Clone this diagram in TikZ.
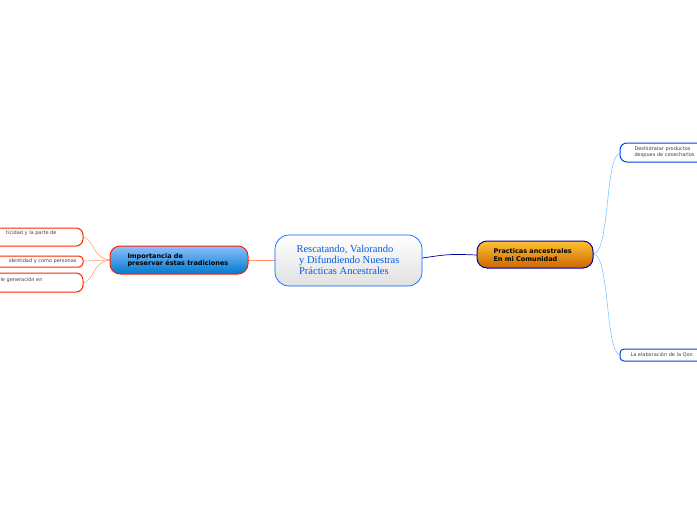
\documentclass[tikz,border=0pt]{standalone}
\usepackage{fontspec}
\setmainfont{Liberation Serif}
\newfontfamily\sansf{DejaVu Sans}
\begin{document}
\begin{tikzpicture}[x=1pt,y=-1pt,
  ltext/.style={font=\sansf\fontsize{5}{6}\selectfont,text=black!75,anchor=west,align=left},
  redline/.style={draw=orange!60!red!60,line width=0.5pt},
  blueline/.style={draw=blue!40!cyan!60,line width=0.5pt},
  redbox/.style={draw=red!70!orange,line width=1pt,fill=white,rounded corners=7pt},
  bluebox/.style={draw=blue!70!cyan!90!black,line width=1pt,fill=white,rounded corners=7pt}]
\useasboundingbox (0,0) rectangle (697,520);
\clip (0,0) rectangle (697,520);
% connectors
\draw[redline] (248,260) -- (275,260);
\draw[draw=blue!60!black,line width=0.7pt] (422,258) .. controls (450,254) .. (477,255);
\draw[redline] (83,237) .. controls (95,240) and (92,258) .. (110,260);
\draw[redline] (83,261) -- (110,260);
\draw[redline] (83,283) .. controls (95,280) and (92,262) .. (110,260);
\draw[blueline] (593,254) .. controls (610,254) and (605,155) .. (620,153);
\draw[blueline] (593,254) .. controls (610,254) and (605,352) .. (620,355);
% central
\shade[top color=white,bottom color=black!12,draw=blue!60!cyan,line width=0.7pt,rounded corners=14pt] (275,235) rectangle (422,286);
\node[font=\fontsize{10.5}{11}\selectfont,text=blue!60!cyan!90!black,align=left] (c) at (348,260) {Rescatando, Valorando\\ \ y Difundiendo Nuestras\\ \ Prácticas Ancestrales};
% left main
\shade[top color=cyan!45!blue!45,bottom color=cyan!60!blue!80!black,draw=red!75!orange,line width=1pt,rounded corners=10pt] (110,246) rectangle (248,274);
\node[font=\sansf\bfseries\fontsize{6.5}{7.5}\selectfont,anchor=west,align=left] (l) at (124,260) {Importancia de\\preservar éstas tradiciones};
% right main
\shade[top color=orange!60!yellow!80,bottom color=orange!80!black,draw=blue!70!black,line width=1pt,rounded corners=10pt] (477,241) rectangle (593,268);
\node[font=\sansf\bfseries\fontsize{6.5}{7.5}\selectfont,anchor=west,align=left] (r) at (490,255) {Practicas ancestrales\\En mi Comunidad};
% left leaves
\draw[redbox] (-20,228) rectangle (83,246);
\node[ltext,anchor=east] (a1) at (60,233) {ticidad y la parte de};
\draw[redbox,rounded corners=4pt] (-20,256) rectangle (83,267);
\node[ltext,anchor=east] (a2) at (80,261) {identidad y como personas};
\draw[redbox] (-20,273) rectangle (83,292);
\node[ltext,anchor=east] (a3) at (46,280) {le generación en};
% right leaves
\draw[bluebox] (620,143) rectangle (720,162);
\node[ltext] (b1) at (631,152) {Deshidratar productos\\despues de cosecharlos};
\draw[bluebox,rounded corners=4pt] (620,349) rectangle (720,361);
\node[ltext] (b2) at (627,355) {La elaboración de la Qon};
\end{tikzpicture}
\end{document}
